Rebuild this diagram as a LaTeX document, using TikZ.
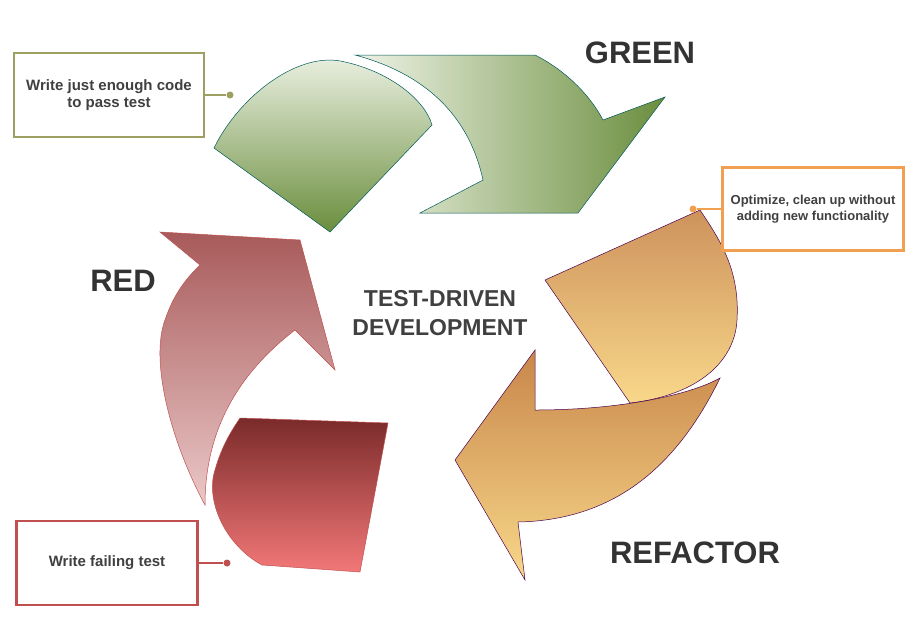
\documentclass[tikz,border=0pt]{standalone}
\usepackage{fontspec}
\setmainfont{Liberation Sans}
\begin{document}
\begin{tikzpicture}[x=1pt,y=-1pt,
  title/.style={font=\bfseries\fontsize{31}{34}\selectfont,text=black!80},
  box/.style={draw=#1,line width=2.5pt,fill=white,align=center,font=\bfseries\fontsize{15}{17}\selectfont,text=black!75},
  dotc/.style={circle,fill=#1,inner sep=0pt,minimum size=7pt}]
\definecolor{gdark}{HTML}{6B8E3E}\definecolor{glight}{HTML}{EEF3E6}
\definecolor{odark}{HTML}{C8864A}\definecolor{olight}{HTML}{F8D88A}
\definecolor{rdark}{HTML}{7A2A2A}\definecolor{rlight}{HTML}{EBC8C8}\definecolor{rmid}{HTML}{A85A5A}
\definecolor{gbox}{HTML}{9DA060}\definecolor{obox}{HTML}{F0A050}\definecolor{rbox}{HTML}{C05050}
\useasboundingbox (0,0) rectangle (920,625);
% green
\path[draw=teal!70!black,line width=0.5pt,top color=glight,bottom color=gdark]
 (214,148) .. controls (240,95) and (300,50) .. (345,62) .. controls (390,72) and (425,100) .. (432,125) -- (330,232) -- cycle;
\path[draw=teal!70!black,line width=0.5pt,left color=glight,right color=gdark]
 (355,55) -- (535,55) .. controls (565,70) and (590,95) .. (603,120) -- (665,97) -- (578,213) -- (420,213) -- (483,180) .. controls (470,120) and (430,75) .. (355,55) -- cycle;
% orange
\path[draw=violet!60!black,line width=0.5pt,top color=odark!90,bottom color=olight]
 (545,280) -- (700,210) .. controls (720,240) and (740,270) .. (737,320) .. controls (735,360) and (700,395) .. (630,403) -- cycle;
\path[draw=violet!60!black,line width=0.5pt,top color=odark,bottom color=olight]
 (535,350) -- (535,410) .. controls (620,410) and (690,395) .. (720,378) .. controls (680,460) and (620,520) .. (518,522) -- (525,580) -- (455,460) -- cycle;
% red
\path[draw=rbox,line width=0.5pt,top color=rmid,bottom color=rlight]
 (160,232) -- (300,240) -- (335,370) -- (295,330) .. controls (230,380) and (205,440) .. (205,505) .. controls (170,440) and (150,360) .. (165,320) .. controls (175,290) and (190,275) .. (200,265) -- cycle;
\path[draw=rbox,line width=0.5pt,shading angle=45,top color=rdark,bottom color=rlight!60!red]
 (240,418) -- (388,423) -- (360,572) -- (262,565) .. controls (225,545) and (205,500) .. (215,470) .. controls (222,445) and (232,430) .. (240,418) -- cycle;
% titles
\node[title] (tg) at (640,53) {GREEN};
\node[title] (tr) at (123,281) {RED};
\node[title] (tf) at (695,553) {REFACTOR};
\node[font=\bfseries\fontsize{23}{29}\selectfont,text=black!75,align=center] (tc) at (440,313) {TEST-DRIVEN\\DEVELOPMENT};
% boxes
\node[box=gbox,minimum width=190pt,minimum height=84pt] (bg) at (109,95) {Write just enough code\\to pass test};
\node[dotc=gbox] (dg) at (230,95) {};
\draw[gbox,line width=2pt] (bg.east) -- (dg);
\node[box=obox,minimum width=181pt,minimum height=83pt,font=\bfseries\fontsize{13}{16}\selectfont] (bo) at (813,209) {Optimize, clean up without\\adding new functionality};
\node[dotc=obox] (do) at (693,209) {};
\draw[obox,line width=2pt] (do) -- (bo.west);
\node[box=rbox,minimum width=181pt,minimum height=84pt] (br) at (107,563) {Write failing test};
\node[dotc=rbox] (dr) at (227,563) {};
\draw[rbox,line width=2pt] (br.east) -- (dr);
\end{tikzpicture}
\end{document}
